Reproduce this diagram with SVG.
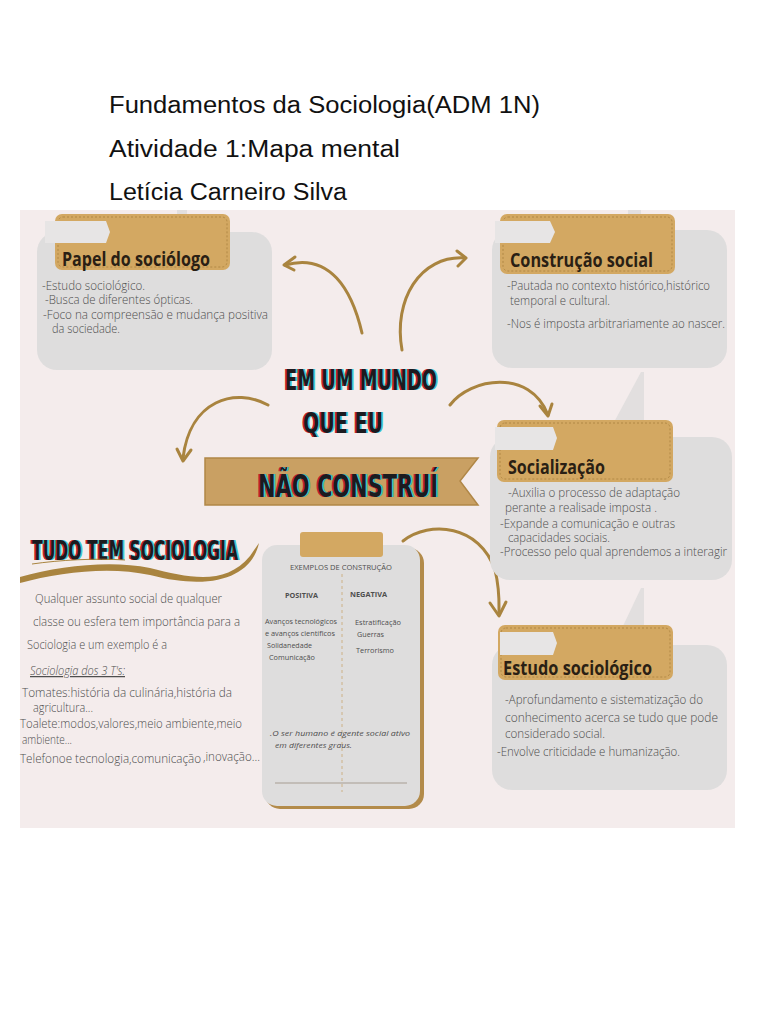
<svg xmlns="http://www.w3.org/2000/svg" xmlns:xlink="http://www.w3.org/1999/xlink" width="768" height="1024" viewBox="0 0 768 1024">
<style>
.hdr{font-family:"Liberation Sans",Arial,sans-serif;font-size:23px;fill:#111}
.card{fill:#dedddd}
.tab{fill:#d3a862}
.stitch{fill:none;stroke:#a9823f;stroke-width:0.8;stroke-dasharray:2 2}
.tag{fill:#e7e5e5}
.ttl{font-family:"Open Sans","DejaVu Sans",sans-serif;font-weight:bold;font-size:20px;fill:#2a1f14}
.body{font-family:"Open Sans","DejaVu Sans",sans-serif;font-weight:300;font-size:12.5px;fill:#4e4e4e}
.big{font-family:"DejaVu Sans Condensed","DejaVu Sans",sans-serif;font-weight:bold}
.arr{fill:none;stroke:#a9843f;stroke-width:3;stroke-linecap:round;stroke-linejoin:round}
.sm{font-family:"Open Sans","DejaVu Sans",sans-serif;font-size:7.5px;fill:#4e4e4e}
.deco{fill:#e2dfdf}
</style>
<defs>
<text id="t1" class="big" x="285" y="390" font-size="28" textLength="152" lengthAdjust="spacingAndGlyphs">EM UM MUNDO</text>
<text id="t2" class="big" x="303" y="433" font-size="28" textLength="80" lengthAdjust="spacingAndGlyphs">QUE EU</text>
<text id="t3" class="big" x="258" y="497" font-size="32" textLength="180" lengthAdjust="spacingAndGlyphs">NÃO CONSTRUÍ</text>
<text id="t4" class="big" x="32" y="560" font-size="26" textLength="206" lengthAdjust="spacingAndGlyphs">TUDO TEM SOCIOLOGIA</text>
</defs>

<g id="header">
<text class="hdr" x="109" y="113" textLength="431" lengthAdjust="spacingAndGlyphs">Fundamentos da Sociologia(ADM 1N)</text>
<text class="hdr" x="109" y="157" textLength="291" lengthAdjust="spacingAndGlyphs">Atividade 1:Mapa mental</text>
<text class="hdr" x="109" y="200" textLength="238" lengthAdjust="spacingAndGlyphs">Letícia Carneiro Silva</text>
</g>

<rect id="panel" x="20" y="210" width="715" height="618" fill="#f4ecec"/>

<g id="decor">
<rect class="deco" x="177" y="210" width="10" height="12"/>
<rect class="deco" x="628" y="210" width="13" height="14"/>
<polygon class="deco" points="641,372 644,372 644,437 606,437"/>
<polygon class="deco" points="641,588 644,588 644,645 614,645"/>
</g>

<g id="connectors">
<path class="arr" d="M362,333 C352,290 330,252 285,265"/>
<path class="arr" d="M295,257 L284,265 L294,270"/>
<path class="arr" d="M402,350 C393,300 420,255 465,258"/>
<path class="arr" d="M457,251 L466,258 L458,266"/>
<path class="arr" d="M450,405 C470,378 530,368 548,415"/>
<path class="arr" d="M540,406 L548,416 L552,404"/>
<path class="arr" d="M268,405 C235,387 190,400 183,458"/>
<path class="arr" d="M177,449 L183,461 L191,450"/>
<path class="arr" stroke-width="3.5" d="M403,541 C430,520 480,525 495,570 C500,590 499,605 499,614"/>
<path class="arr" stroke-width="3.5" d="M490,603 L499,616 L506,602"/>
</g>

<g id="papel">
<rect class="card" x="37" y="232" width="235" height="138" rx="20"/>
<rect class="tab" x="55" y="214" width="175" height="56" rx="7"/>
<rect class="stitch" x="58" y="217" width="169" height="50" rx="5"/>
<polygon class="tag" points="45,221 106,221 110,232 106,243 45,243"/>
<text class="ttl" x="62" y="266" textLength="148" lengthAdjust="spacingAndGlyphs">Papel do sociólogo</text>
<text class="body" x="42" y="290" textLength="103" lengthAdjust="spacingAndGlyphs">-Estudo sociológico.</text>
<text class="body" x="45" y="304" textLength="148" lengthAdjust="spacingAndGlyphs">-Busca de diferentes ópticas.</text>
<text class="body" x="43" y="319" textLength="225" lengthAdjust="spacingAndGlyphs">-Foco na compreensão e mudança  positiva</text>
<text class="body" x="52" y="333" textLength="68" lengthAdjust="spacingAndGlyphs">da sociedade.</text>
</g>

<g id="construcao">
<rect class="card" x="492" y="230" width="235" height="138" rx="20"/>
<rect class="tab" x="500" y="214" width="175" height="60" rx="7"/>
<rect class="stitch" x="503" y="217" width="169" height="54" rx="5"/>
<polygon class="tag" points="495,221 550,221 555,232 550,243 495,243"/>
<text class="ttl" x="510" y="267" textLength="143" lengthAdjust="spacingAndGlyphs">Construção social</text>
<text class="body" x="507" y="290" textLength="203" lengthAdjust="spacingAndGlyphs">-Pautada no contexto histórico,histórico</text>
<text class="body" x="510" y="305" textLength="100" lengthAdjust="spacingAndGlyphs">temporal e cultural.</text>
<text class="body" x="507" y="328" textLength="218" lengthAdjust="spacingAndGlyphs">-Nos é imposta arbitrariamente  ao nascer.</text>
</g>

<g id="centro">
<polygon points="205,458 478,458 460,481 478,505 205,505" fill="#c9a063" stroke="#b08747" stroke-width="1.5"/>
<use xlink:href="#t1" x="-1.5" fill="#c4202f"/>
<use xlink:href="#t1" x="1.5" fill="#40c8cc"/>
<use xlink:href="#t1" fill="#1b1b1f"/>
<use xlink:href="#t2" x="-1.5" fill="#c4202f"/>
<use xlink:href="#t2" x="1.5" fill="#40c8cc"/>
<use xlink:href="#t2" fill="#1b1b1f"/>
<use xlink:href="#t3" x="-1.5" fill="#c4202f"/>
<use xlink:href="#t3" x="1.5" fill="#40c8cc"/>
<use xlink:href="#t3" fill="#1b1b1f"/>
</g>

<g id="socializacao">
<rect class="card" x="490" y="437" width="242" height="143" rx="20"/>
<rect class="tab" x="497" y="420" width="176" height="62" rx="7"/>
<rect class="stitch" x="500" y="423" width="170" height="56" rx="5"/>
<polygon class="tag" points="495,427 553,427 557,438 553,450 495,450"/>
<text class="ttl" x="508" y="474" textLength="97" lengthAdjust="spacingAndGlyphs">Socialização</text>
<text class="body" x="508" y="497" textLength="172" lengthAdjust="spacingAndGlyphs">-Auxilia o processo  de adaptação</text>
<text class="body" x="505" y="512" textLength="152" lengthAdjust="spacingAndGlyphs">perante a realisade imposta .</text>
<text class="body" x="500" y="528" textLength="175" lengthAdjust="spacingAndGlyphs">-Expande a comunicação e outras</text>
<text class="body" x="508" y="542" textLength="102" lengthAdjust="spacingAndGlyphs">capacidades sociais.</text>
<text class="body" x="500" y="556" textLength="227" lengthAdjust="spacingAndGlyphs">-Processo pelo qual aprendemos a interagir</text>
</g>

<g id="tudo">
<use xlink:href="#t4" x="-1.5" fill="#c4202f"/>
<use xlink:href="#t4" x="1.5" fill="#40c8cc"/>
<use xlink:href="#t4" fill="#1b1b1f"/>
<path d="M20,577 C60,566 110,560 150,568 C190,578 225,586 250,556 L259,543 C252,575 215,592 150,575 C110,566 60,572 20,583 Z" fill="#a9843f"/>
<path d="M32,564 C60,560 95,558 125,560" fill="none" stroke="#a9843f" stroke-width="1"/>
<text class="body" font-size="13" x="35" y="603" textLength="187" lengthAdjust="spacingAndGlyphs">Qualquer assunto social de qualquer</text>
<text class="body" font-size="13" x="33" y="626" textLength="207" lengthAdjust="spacingAndGlyphs">classe ou esfera tem importância  para a</text>
<text class="body" font-size="13" x="27" y="649" textLength="140" lengthAdjust="spacingAndGlyphs">Sociologia e um exemplo é a</text>
<text class="body" font-size="13" x="30" y="675" font-style="italic" text-decoration="underline" textLength="95" lengthAdjust="spacingAndGlyphs">Sociologia dos 3 T's:</text>
<text class="body" font-size="13" x="22" y="697" textLength="210" lengthAdjust="spacingAndGlyphs">Tomates:história da culinária,história  da</text>
<text class="body" font-size="13" x="33" y="712" textLength="60" lengthAdjust="spacingAndGlyphs">agricultura...</text>
<text class="body" font-size="13" x="20" y="728" textLength="222" lengthAdjust="spacingAndGlyphs">Toalete:modos,valores,meio ambiente,meio</text>
<text class="body" font-size="13" x="22" y="744" textLength="50" lengthAdjust="spacingAndGlyphs">ambiente...</text>
<text class="body" font-size="13" x="20" y="763" textLength="181" lengthAdjust="spacingAndGlyphs">Telefonoe tecnologia,comunicação</text>
<text class="body" font-size="10" x="203" y="761" textLength="57" lengthAdjust="spacingAndGlyphs">,inovação...</text>
</g>

<g id="exemplos">
<rect x="265" y="548" width="159" height="261" rx="15" fill="#b38b4a"/>
<rect class="card" x="262" y="545" width="158" height="261" rx="15"/>
<rect class="tab" x="300" y="532" width="83" height="25" rx="3"/>
<line x1="342" y1="574" x2="342" y2="792" stroke="#c9a772" stroke-width="0.8" stroke-dasharray="3 3"/>
<text class="sm" x="290" y="570" textLength="102" lengthAdjust="spacingAndGlyphs">EXEMPLOS DE CONSTRUÇÃO</text>
<text class="sm" x="285" y="598" font-weight="bold" fill="#333" textLength="33" lengthAdjust="spacingAndGlyphs">POSITIVA</text>
<text class="sm" x="350" y="597" font-weight="bold" fill="#333" textLength="37" lengthAdjust="spacingAndGlyphs">NEGATIVA</text>
<text class="sm" x="265" y="624" textLength="72" lengthAdjust="spacingAndGlyphs">Avanços tecnológicos</text>
<text class="sm" x="265" y="636" textLength="70" lengthAdjust="spacingAndGlyphs">e avanços científicos</text>
<text class="sm" x="267" y="648" textLength="45" lengthAdjust="spacingAndGlyphs">Solidanedade</text>
<text class="sm" x="269" y="660" textLength="46" lengthAdjust="spacingAndGlyphs">Comunicação</text>
<text class="sm" x="355" y="625" textLength="46" lengthAdjust="spacingAndGlyphs">Estratificação</text>
<text class="sm" x="357" y="637" textLength="27" lengthAdjust="spacingAndGlyphs">Guerras</text>
<text class="sm" x="356" y="653" textLength="38" lengthAdjust="spacingAndGlyphs">Terrorismo</text>
<text class="sm" x="270" y="736" font-style="italic" font-size="8" textLength="140" lengthAdjust="spacingAndGlyphs">.O ser humano é agente  social ativo</text>
<text class="sm" x="275" y="748" font-style="italic" font-size="8" textLength="77" lengthAdjust="spacingAndGlyphs">em diferentes graus.</text>
<line x1="275" y1="783" x2="407" y2="783" stroke="#a79d92" stroke-width="1"/>
</g>

<g id="estudo">
<rect class="card" x="492" y="645" width="235" height="145" rx="20"/>
<rect class="tab" x="498" y="625" width="175" height="55" rx="7"/>
<rect class="stitch" x="501" y="628" width="169" height="49" rx="5"/>
<polygon class="tag" points="500,632 553,632 557,643 553,655 500,655"/>
<text class="ttl" x="503" y="675" textLength="149" lengthAdjust="spacingAndGlyphs">Estudo sociológico</text>
<text class="body" x="505" y="704" textLength="198" lengthAdjust="spacingAndGlyphs">-Aprofundamento e sistematização  do</text>
<text class="body" x="505" y="722" textLength="213" lengthAdjust="spacingAndGlyphs">conhecimento acerca se tudo que pode</text>
<text class="body" x="505" y="738" textLength="100" lengthAdjust="spacingAndGlyphs">considerado social.</text>
<text class="body" x="497" y="756" textLength="183" lengthAdjust="spacingAndGlyphs">-Envolve criticidade e humanização.</text>
</g>
</svg>
